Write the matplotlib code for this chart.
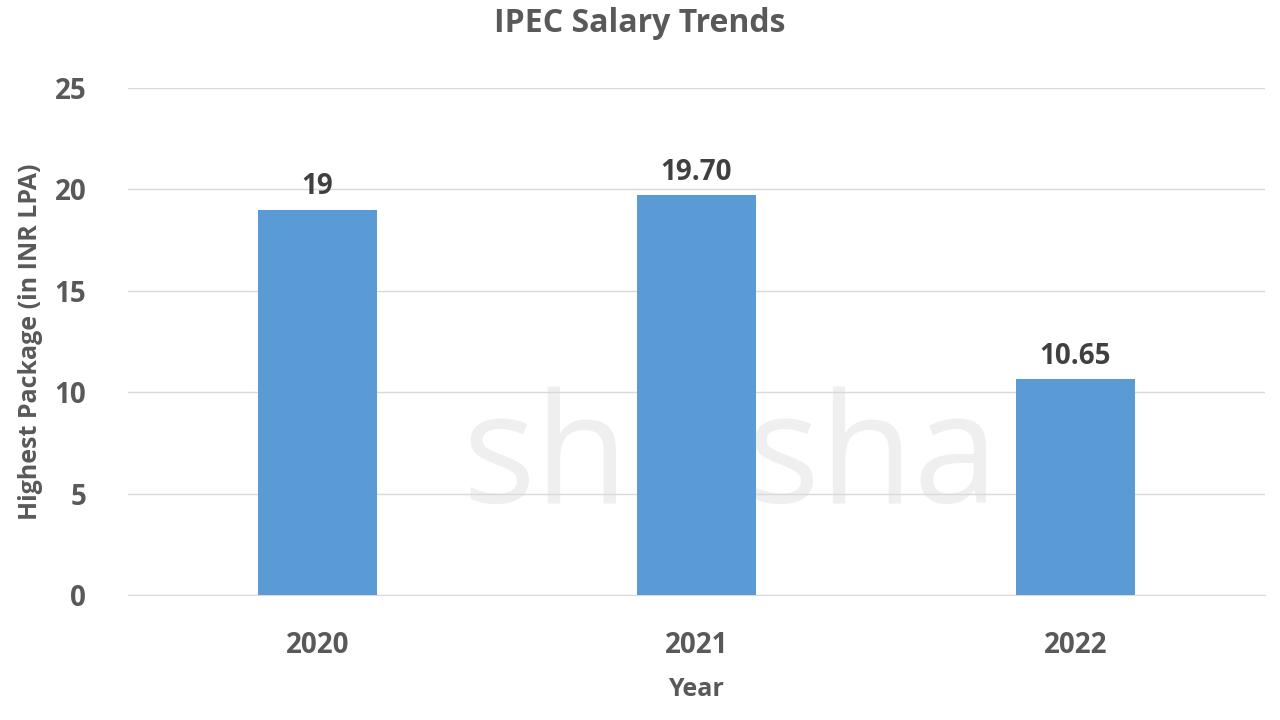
import matplotlib.pyplot as plt

years = ["2020", "2021", "2022"]
packages = [19, 19.70, 10.65]
value_labels = ["19", "19.70", "10.65"]

plt.rcParams['font.family'] = ['Open Sans', 'DejaVu Sans']

fig = plt.figure(figsize=(12.8, 7.2), dpi=100)
ax = fig.add_axes([0.1, 0.1736, 0.888, 0.7044])

x = range(len(years))
bars = ax.bar(x, packages, width=0.314, color='#5B9BD5', zorder=3)
for b, lab in zip(bars, value_labels):
    ax.text(b.get_x() + b.get_width() / 2, b.get_height() + 0.4, lab,
            ha='center', va='bottom', fontsize=20, fontweight='bold', color='#404040', zorder=4)

# faint watermark, behind the bars
ax.text(0.53, 0.26, "shiksha", transform=ax.transAxes, fontsize=110, color='#efefef',
        ha='center', va='center', zorder=1, clip_on=False)

ax.set_xlim(-0.5, 2.5)
ax.set_ylim(0, 25)
ax.set_yticks([0, 5, 10, 15, 20, 25])
ax.set_xticks(list(x))
ax.set_xticklabels(years)
ax.tick_params(axis='both', length=0, labelsize=20, colors='#595959')
ax.tick_params(axis='x', pad=26)
ax.tick_params(axis='y', pad=30)
for t in ax.get_xticklabels() + ax.get_yticklabels():
    t.set_fontweight('bold')
ax.grid(axis='y', color='#d9d9d9', linewidth=1, zorder=0)
for s in ['top', 'right', 'left']:
    ax.spines[s].set_visible(False)
ax.spines['bottom'].set_color('#d9d9d9')
ax.patch.set_alpha(0)

ax.set_xlabel("Year", fontsize=18, fontweight='bold', color='#595959', labelpad=12)
ax.set_ylabel("Highest Package (in INR LPA)", fontsize=18, fontweight='bold', color='#595959', labelpad=8)
fig.suptitle("IPEC Salary Trends", x=0.5, y=0.99, fontsize=23, fontweight='bold', color='#595959')

fig.savefig("out.png", dpi=100)
